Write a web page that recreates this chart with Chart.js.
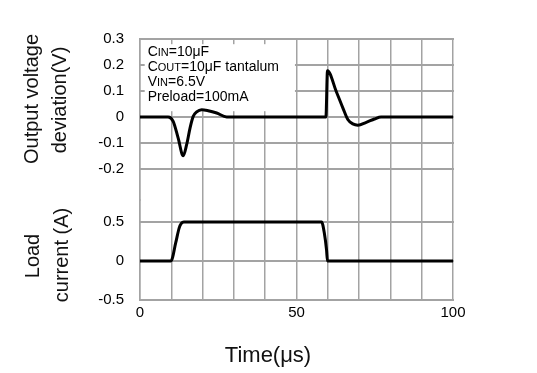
<!DOCTYPE html>
<html lang="en">
<head>
  <meta charset="UTF-8" />
  <title>Load transient response</title>
  <script src="https://cdn.jsdelivr.net/npm/chart.js"></script>
  <style>
    body {
      margin: 0;
      background: #fff;
    }
    .wrap {
      position: relative;
      width: 537px;
      height: 373px;
    }
  </style>
</head>
<body>
  <div class="wrap"><canvas id="grafica"></canvas></div>

  <script>
    // output voltage deviation (V) against time (us)
    const voltTime  = [0, 9, 10.6, 12.2, 13.8, 14.9, 16, 17, 18.1, 19.7, 21.8, 24.5, 27.7, 59.4, 59.9, 62.7, 64.8, 66.4, 68, 69.6, 72.3, 74.9, 77, 100];
    const voltValue = [0, 0, -0.017, -0.082, -0.15, -0.107, -0.042, 0.002, 0.019, 0.028, 0.024, 0.015, 0, 0, 0.178, 0.098, 0.035, -0.01, -0.027, -0.032, -0.021, -0.008, 0, 0];

    // load current (A) against time (us)
    const currTime  = [0, 9.9, 11.4, 12.5, 13.2, 14, 58, 58.9, 59.6, 59.9, 100];
    const currValue = [0, 0, 0.23, 0.42, 0.48, 0.5, 0.5, 0.355, 0.14, 0, 0];

    const voltTicks = [-0.2, -0.1, 0, 0.1, 0.2, 0.3];
    const currTicks = [-0.5, 0, 0.5];
    const timeLabels = [0, 50, 100];

    // conditions box: [text, small caps?]
    const noteLines = [
      [['C', 0], ['IN', 1], ['=10\u03bcF', 0]],
      [['C', 0], ['OUT', 1], ['=10\u03bcF tantalum', 0]],
      [['V', 0], ['IN', 1], ['=6.5V', 0]],
      [['Preload=100mA', 0]]
    ];

    const FONT = "'Liberation Sans', Arial, Helvetica, sans-serif";
    const gridColor = '#a3a3a3';
    Chart.defaults.font.family = FONT;
    Chart.defaults.color = '#000';

    function toPoints(xs, ys) {
      return xs.map((t, i) => ({ x: t, y: ys[i] }));
    }

    function fmtTick(v) {
      return v === 0 ? '0' : v.toFixed(1);
    }

    const labelsPlugin = {
      id: 'panelNotes',
      beforeDatasetsDraw(chart) {
        const { ctx, scales: { x, yV, yI } } = chart;
        const x0 = x.getPixelForValue(x.min);
        const x1 = x.getPixelForValue(x.max);
        ctx.save();
        // horizontal grid lines of both panels, as 2px bands
        ctx.fillStyle = gridColor;
        [[yV, voltTicks], [yI, currTicks]].forEach(([s, vals]) => {
          vals.forEach(v => {
            const py = Math.round(s.getPixelForValue(v));
            ctx.fillRect(x0, py - 1, x1 - x0 + 1, 2);
          });
        });
        // white box over the grid, behind the notes
        const left = x.getPixelForValue(1.5);
        const right = x.getPixelForValue(49.5);
        const top = yV.getPixelForValue(0.28);
        const bottom = yV.getPixelForValue(0.022);
        ctx.fillStyle = '#fff';
        ctx.fillRect(left, top, right - left, bottom - top);
        ctx.fillStyle = '#000';
        ctx.textBaseline = 'alphabetic';
        noteLines.forEach((line, i) => {
          let cx = left + 3;
          const cy = top + 12 + i * 15;
          line.forEach(([txt, small]) => {
            ctx.font = (small ? '11px ' : '14px ') + FONT;
            ctx.fillText(txt, cx, cy);
            cx += ctx.measureText(txt).width;
          });
        });
        ctx.restore();
      },
      afterDraw(chart) {
        const { ctx } = chart;
        ctx.save();
        ctx.fillStyle = '#111';
        ctx.textAlign = 'center';
        ctx.textBaseline = 'middle';
        ctx.font = '20px ' + FONT;
        const vert = [['Output voltage', 32, 99], ['deviation(V)', 60, 100], ['Load', 33, 256], ['current (A)', 62, 255]];
        vert.forEach(([txt, px, py]) => {
          ctx.save();
          ctx.translate(px, py);
          ctx.rotate(-Math.PI / 2);
          ctx.fillText(txt, 0, 0);
          ctx.restore();
        });
        ctx.font = '22px ' + FONT;
        ctx.fillText('Time(\u03bcs)', 268, 356);
        ctx.restore();
      }
    };

    const borderOpts = { color: gridColor, width: 1.5 };

    const ctx = document.getElementById('grafica').getContext('2d');
    new Chart(ctx, {
      type: 'line',
      data: {
        datasets: [
          {
            label: 'Output voltage deviation',
            data: toPoints(voltTime, voltValue),
            yAxisID: 'yV',
            borderColor: '#000',
            borderWidth: 3,
            pointRadius: 0,
            fill: false,
            cubicInterpolationMode: 'monotone'
          },
          {
            label: 'Load current',
            data: toPoints(currTime, currValue),
            yAxisID: 'yI',
            borderColor: '#000',
            borderWidth: 3,
            pointRadius: 0,
            fill: false,
            cubicInterpolationMode: 'monotone'
          }
        ]
      },
      options: {
        responsive: true,
        maintainAspectRatio: false,
        animation: false,
        layout: { padding: { left: 40, top: 39, right: 84, bottom: 0 } },
        plugins: {
          legend: { display: false },
          tooltip: { enabled: false }
        },
        scales: {
          x: {
            type: 'linear',
            min: 0,
            max: 100,
            grid: { color: gridColor, lineWidth: 1.5, drawTicks: false },
            border: borderOpts,
            ticks: {
              stepSize: 10,
              autoSkip: false,
              maxRotation: 0,
              padding: 4,
              font: { size: 15 },
              callback: v => timeLabels.includes(v) ? String(v) : ''
            },
            afterFit: s => { s.height = 73; }
          },
          // bottom panel (listed first: left boxes are stacked in reverse order)
          yI: {
            type: 'linear',
            position: 'left',
            stack: 'panels',
            stackWeight: 100,
            min: -0.5,
            max: 0.78,
            grid: { display: false },
            border: borderOpts,
            afterBuildTicks: s => { s.ticks = currTicks.map(v => ({ value: v })); },
            ticks: { autoSkip: false, padding: 8, font: { size: 15 }, callback: fmtTick },
            afterFit: s => { s.width = 100; }
          },
          yV: {
            type: 'linear',
            position: 'left',
            stack: 'panels',
            stackWeight: 161,
            min: -0.32,
            max: 0.3,
            grid: { display: false },
            border: borderOpts,
            afterBuildTicks: s => { s.ticks = voltTicks.map(v => ({ value: v })); },
            ticks: { autoSkip: false, padding: 8, font: { size: 15 }, callback: fmtTick },
            afterFit: s => { s.width = 100; }
          }
        }
      },
      plugins: [labelsPlugin]
    });
  </script>
</body>
</html>
